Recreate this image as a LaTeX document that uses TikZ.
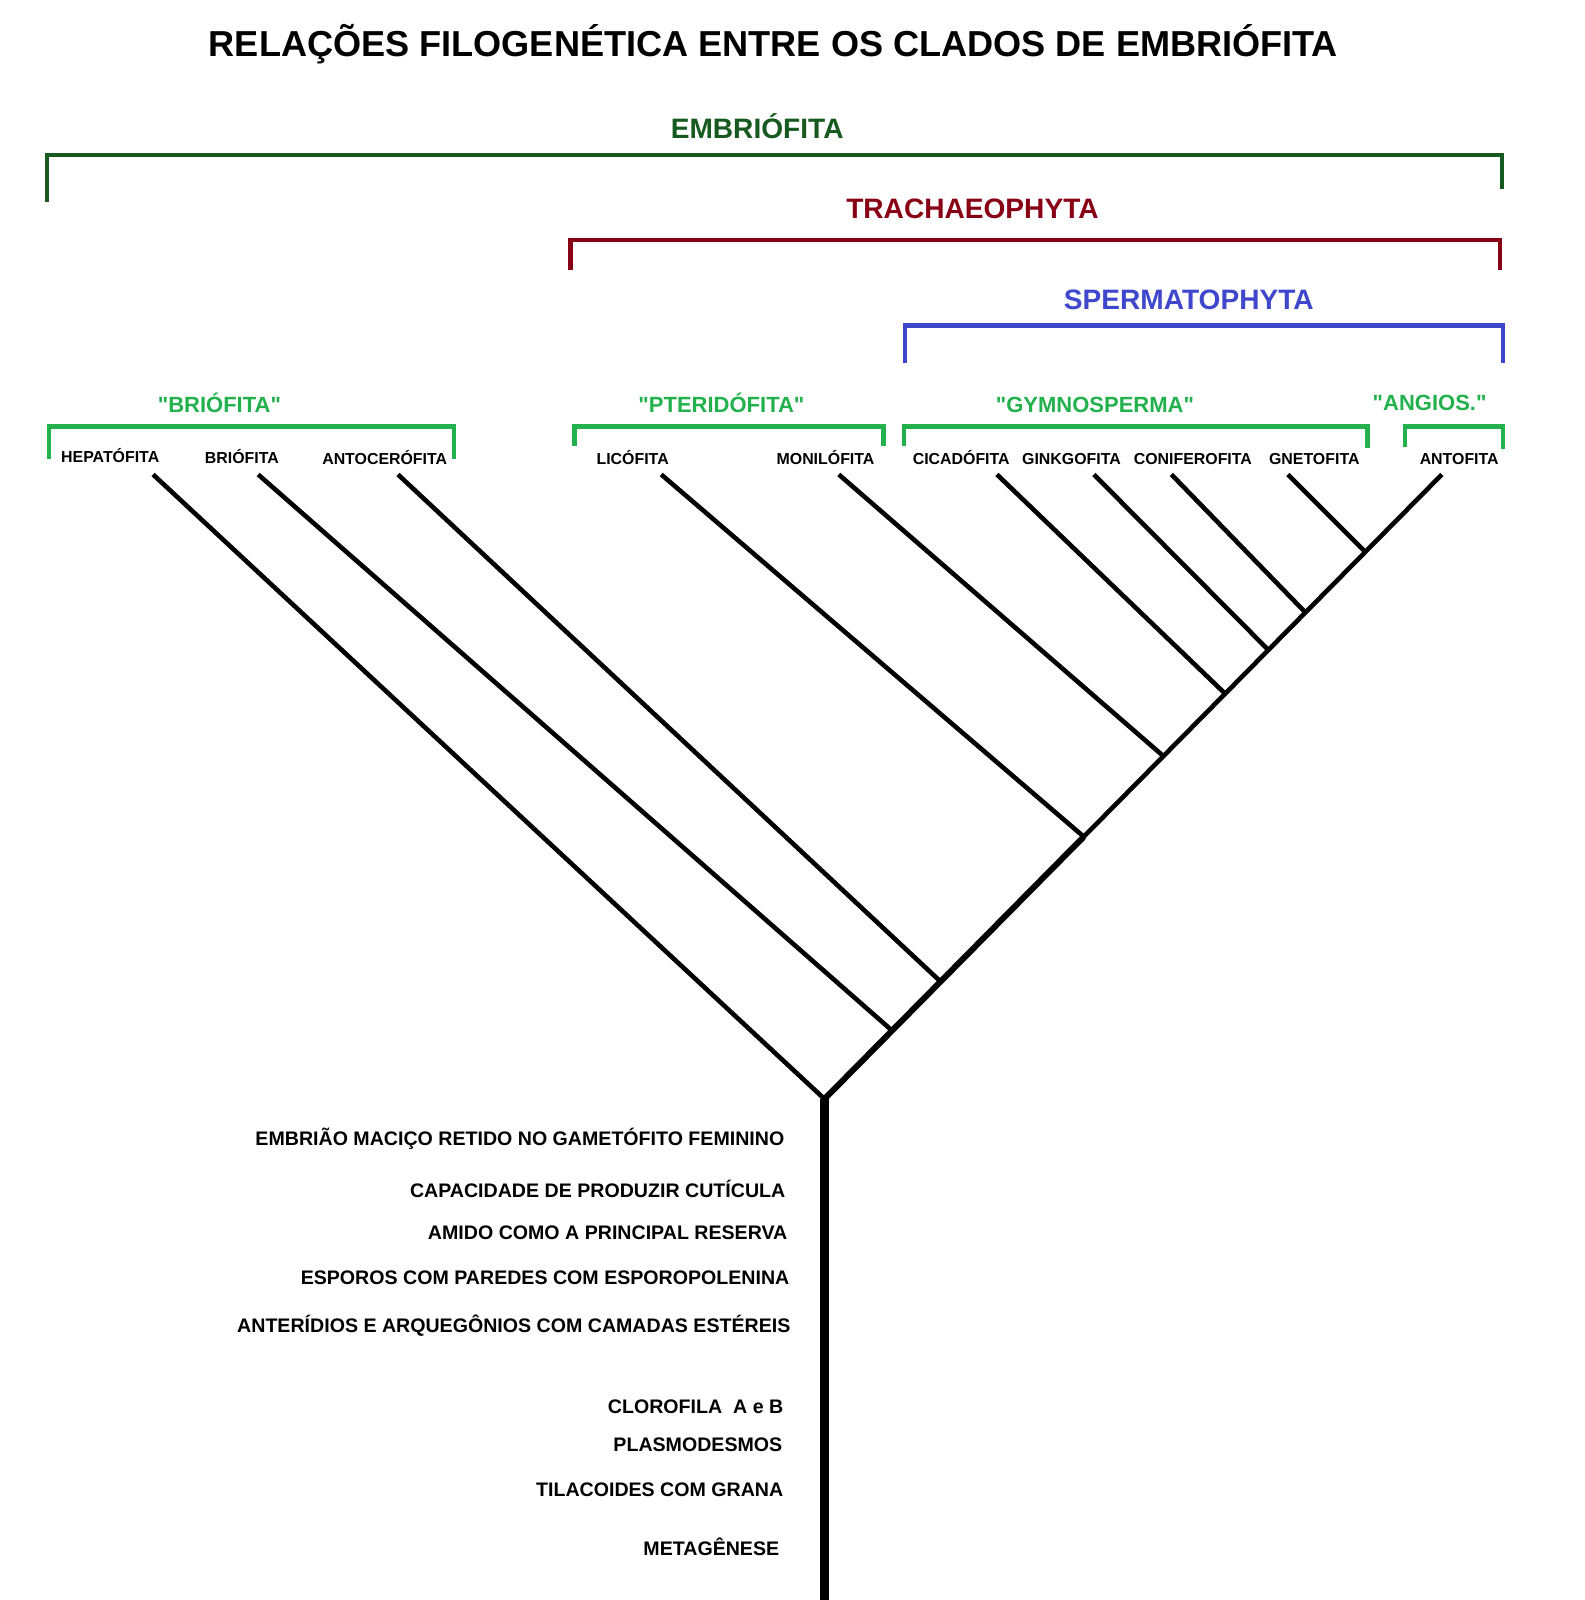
\documentclass[tikz,border=0pt]{standalone}
\usepackage{fontspec}
\setmainfont{Liberation Sans}
\usetikzlibrary{calc}

\definecolor{embgreen}{RGB}{22,90,32}
\definecolor{trared}{RGB}{136,0,21}
\definecolor{speblue}{RGB}{63,72,204}
\definecolor{cladegreen}{RGB}{34,177,76}

\tikzset{
  rotulo/.style={inner sep=0pt, anchor=base},
  titulo/.style={rotulo, font=\bfseries\fontsize{18.06pt}{20pt}\selectfont},
  grupo/.style={rotulo, font=\bfseries\fontsize{14.05pt}{16pt}\selectfont},
  clado/.style={rotulo, text=cladegreen, font=\bfseries\fontsize{11.0pt}{13pt}\selectfont},
  taxon/.style={rotulo, font=\bfseries\fontsize{7.95pt}{9pt}\selectfont},
  carater/.style={rotulo, anchor=base east, font=\bfseries\fontsize{9.8pt}{11pt}\selectfont},
  chave/.style={line width=2.2pt, line join=miter},
  ramo/.style={line width=2.3pt},
}

\begin{document}
\begin{tikzpicture}[x=0.5102pt,y=-0.5102pt]
  \useasboundingbox (0,0) rectangle (1553,1568);

  \node[titulo] (titulo) at (758,55) {RELAÇÕES FILOGENÉTICA ENTRE OS CLADOS DE EMBRIÓFITA};

  % grandes grupos
  \node[grupo, text=embgreen] (embriofita) at (742,136) {EMBRIÓFITA};
  \draw[chave, embgreen] (46,198) -- (46,152) -- (1472,152) -- (1472,185);

  \node[grupo, text=trared] (trachaeophyta) at (953,214) {TRACHAEOPHYTA};
  \draw[chave, trared] (559,265) -- (559,235) -- (1470,235) -- (1470,265);

  \node[grupo, text=speblue] (spermatophyta) at (1165,303) {SPERMATOPHYTA};
  \draw[chave, speblue] (887,356) -- (887,319) -- (1473,319) -- (1473,356);

  % clados parafileticos
  \node[clado] (briofitas) at (215,404) {\textquotedbl BRIÓFITA\textquotedbl};
  \draw[chave, cladegreen] (48,450) -- (48,418) -- (445,418) -- (445,450);
  \node[clado] (pteridofitas) at (707,404) {\textquotedbl PTERIDÓFITA\textquotedbl};
  \draw[chave, cladegreen] (563,437) -- (563,418) -- (866,418) -- (866,437);
  \node[clado] (gymnosperma) at (1073,404) {\textquotedbl GYMNOSPERMA\textquotedbl};
  \draw[chave, cladegreen] (886,437) -- (886,418) -- (1340,418) -- (1340,439);
  \node[clado] (angios) at (1401,402) {\textquotedbl ANGIOS.\textquotedbl};
  \draw[chave, cladegreen] (1377,438) -- (1377,418) -- (1473,418) -- (1473,440);

  % taxons
  \node[taxon] (hepatofita) at (108,453) {HEPATÓFITA};
  \node[taxon] (briofita) at (237,454) {BRIÓFITA};
  \node[taxon] (antocerofita) at (377,455) {ANTOCERÓFITA};
  \node[taxon] (licofita) at (620,455) {LICÓFITA};
  \node[taxon] (monilofita) at (809,455) {MONILÓFITA};
  \node[taxon] (cicadofita) at (942,455) {CICADÓFITA};
  \node[taxon] (ginkgofita) at (1050,455) {GINKGOFITA};
  \node[taxon] (coniferofita) at (1169,455) {CONIFEROFITA};
  \node[taxon] (gnetofita) at (1288,455) {GNETOFITA};
  \node[taxon] (antofita) at (1430,455) {ANTOFITA};

  % arvore
  \coordinate (raiz) at (808,1077);
  \coordinate (base) at (808,1570);
  \coordinate (t-hep) at (150,465);
  \coordinate (t-bri) at (253,465);
  \coordinate (t-ant) at (390,465);
  \coordinate (t-lic) at (648,465);
  \coordinate (t-mon) at (822,465);
  \coordinate (t-cic) at (977,465);
  \coordinate (t-gin) at (1072,465);
  \coordinate (t-con) at (1148,465);
  \coordinate (t-gne) at (1262,465);
  \coordinate (t-ang) at (1413,465);

  \coordinate (n-bri) at ($(raiz)!0.1095!(t-ang)$);
  \coordinate (n-ant) at ($(raiz)!0.188!(t-ang)$);
  \coordinate (n-lic) at ($(raiz)!0.42!(t-ang)$);
  \coordinate (n-mon) at ($(raiz)!0.549!(t-ang)$);
  \coordinate (n-cic) at ($(raiz)!0.649!(t-ang)$);
  \coordinate (n-gin) at ($(raiz)!0.719!(t-ang)$);
  \coordinate (n-con) at ($(raiz)!0.779!(t-ang)$);
  \coordinate (n-gne) at ($(raiz)!0.876!(t-ang)$);

  \draw[line width=4.5pt] (raiz) -- (base);
  \draw[ramo] (t-hep) -- (raiz);
  \draw[ramo, line width=3pt] (raiz) -- (n-lic);
  \draw[ramo] (n-lic) -- (t-ang);
  \draw[ramo] (t-bri) -- (n-bri);
  \draw[ramo] (t-ant) -- (n-ant);
  \draw[ramo] (t-lic) -- (n-lic);
  \draw[ramo] (t-mon) -- (n-mon);
  \draw[ramo] (t-cic) -- (n-cic);
  \draw[ramo] (t-gin) -- (n-gin);
  \draw[ramo] (t-con) -- (n-con);
  \draw[ramo] (t-gne) -- (n-gne);

  % caracteres
  \node[carater] (c1) at (769,1123) {EMBRIÃO MACIÇO RETIDO NO GAMETÓFITO FEMININO};
  \node[carater] (c2) at (770,1174) {CAPACIDADE DE PRODUZIR CUTÍCULA};
  \node[carater] (c3) at (772,1215) {AMIDO COMO A PRINCIPAL RESERVA};
  \node[carater] (c4) at (774,1259) {ESPOROS COM PAREDES COM ESPOROPOLENINA};
  \node[carater] (c5) at (775,1306) {ANTERÍDIOS E ARQUEGÔNIOS COM CAMADAS ESTÉREIS};
  \node[carater] (c6) at (768,1385) {CLOROFILA\ \ A e B};
  \node[carater] (c7) at (767,1422) {PLASMODESMOS};
  \node[carater] (c8) at (768,1467) {TILACOIDES COM GRANA};
  \node[carater] (c9) at (764,1524) {METAGÊNESE};
\end{tikzpicture}
\end{document}
